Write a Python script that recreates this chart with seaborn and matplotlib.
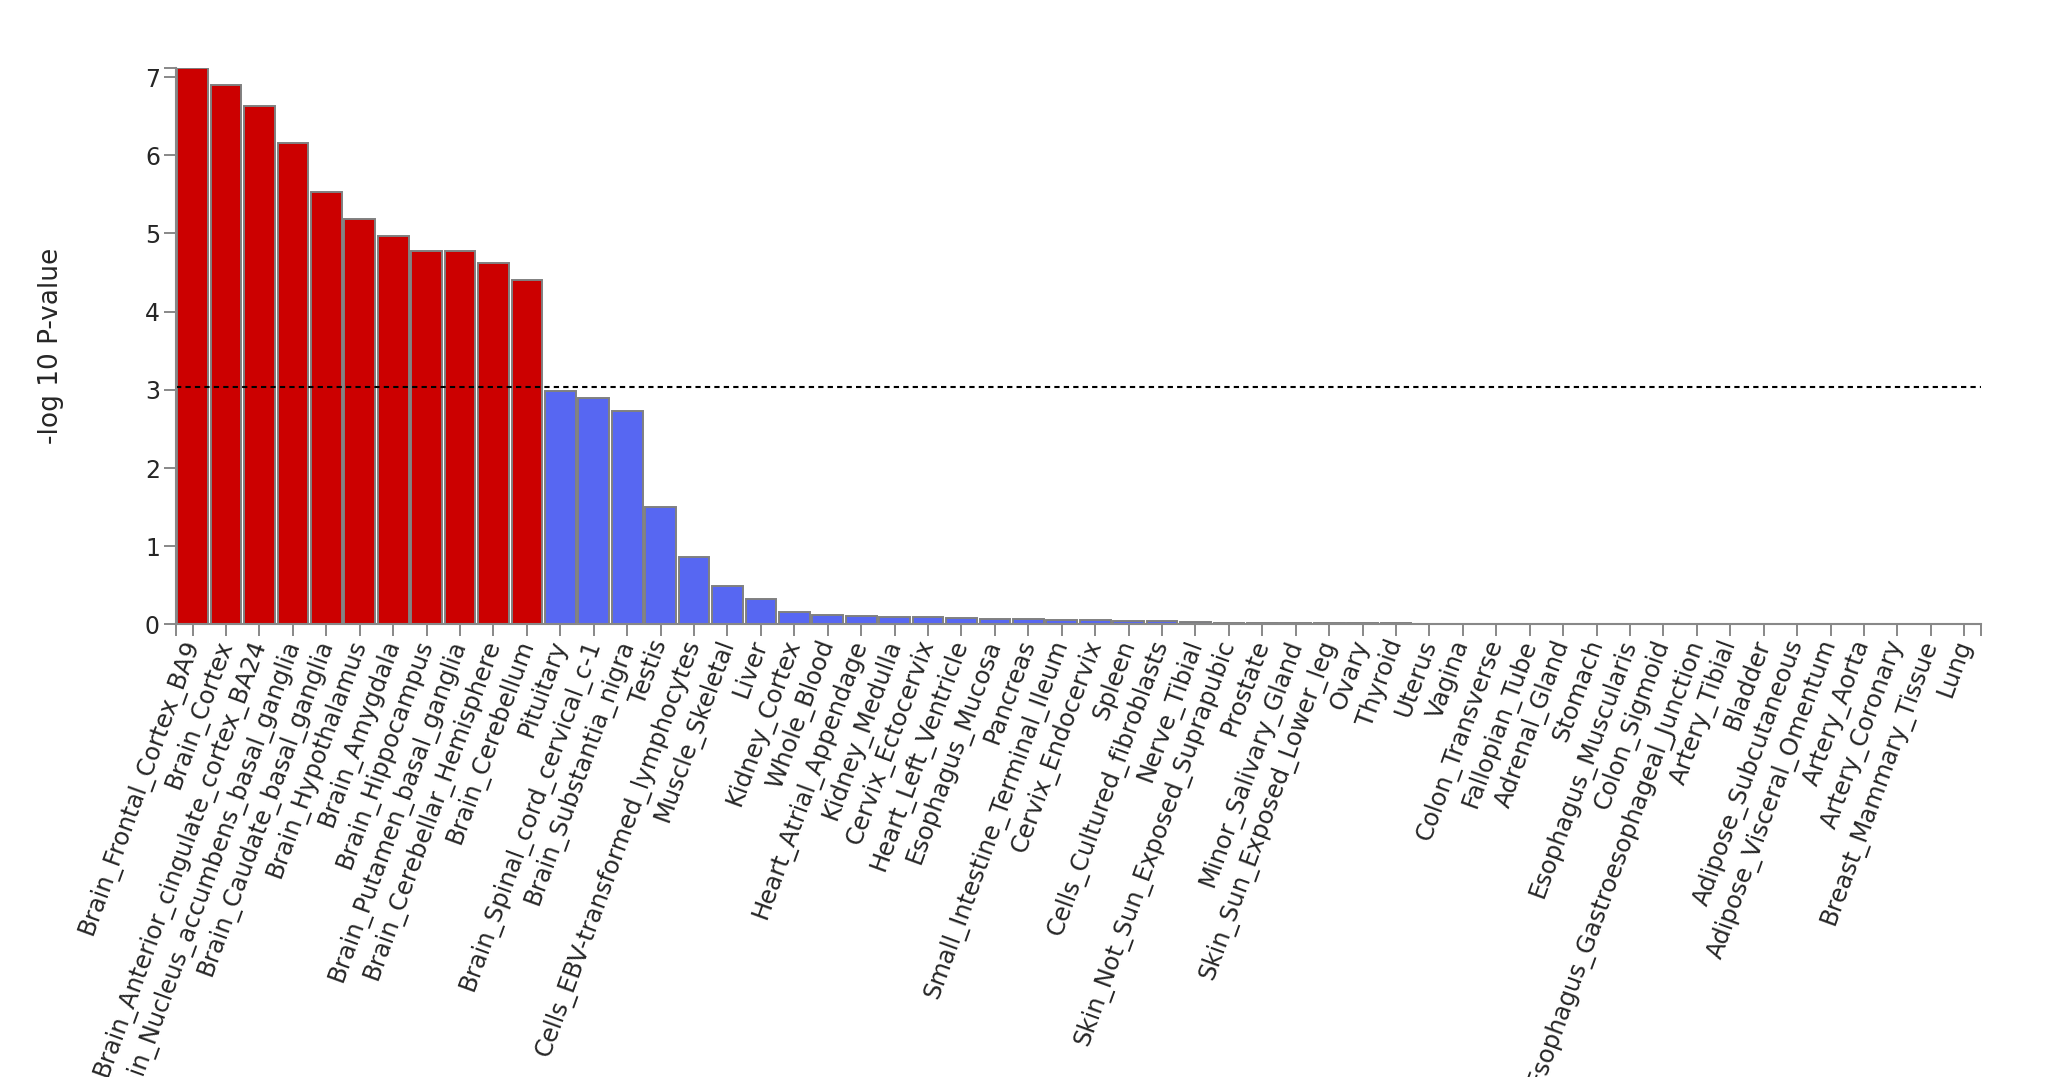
import pandas as pd
import seaborn as sns
import matplotlib.pyplot as plt

# tissue enrichment, GTEx 54 tissues, sorted by -log10 p
tissues = [
    "Brain_Frontal_Cortex_BA9", "Brain_Cortex", "Brain_Anterior_cingulate_cortex_BA24",
    "Brain_Nucleus_accumbens_basal_ganglia", "Brain_Caudate_basal_ganglia",
    "Brain_Hypothalamus", "Brain_Amygdala", "Brain_Hippocampus",
    "Brain_Putamen_basal_ganglia", "Brain_Cerebellar_Hemisphere", "Brain_Cerebellum",
    "Pituitary", "Brain_Spinal_cord_cervical_c-1", "Brain_Substantia_nigra", "Testis",
    "Cells_EBV-transformed_lymphocytes", "Muscle_Skeletal", "Liver", "Kidney_Cortex",
    "Whole_Blood", "Heart_Atrial_Appendage", "Kidney_Medulla", "Cervix_Ectocervix",
    "Heart_Left_Ventricle", "Esophagus_Mucosa", "Pancreas",
    "Small_Intestine_Terminal_Ileum", "Cervix_Endocervix", "Spleen",
    "Cells_Cultured_fibroblasts", "Nerve_Tibial", "Skin_Not_Sun_Exposed_Suprapubic",
    "Prostate", "Minor_Salivary_Gland", "Skin_Sun_Exposed_Lower_leg", "Ovary",
    "Thyroid", "Uterus", "Vagina", "Colon_Transverse", "Fallopian_Tube",
    "Adrenal_Gland", "Stomach", "Esophagus_Muscularis", "Colon_Sigmoid",
    "Esophagus_Gastroesophageal_Junction", "Artery_Tibial", "Bladder",
    "Adipose_Subcutaneous", "Adipose_Visceral_Omentum", "Artery_Aorta",
    "Artery_Coronary", "Breast_Mammary_Tissue", "Lung",
]
logp = [
    7.12, 6.90, 6.63, 6.15, 5.53, 5.19, 4.97, 4.78, 4.77, 4.62, 4.40,
    2.99, 2.90, 2.73, 1.50, 0.86, 0.49, 0.32, 0.16, 0.12, 0.11, 0.10, 0.094,
    0.085, 0.072, 0.072, 0.060, 0.060, 0.047, 0.047, 0.025, 0.020, 0.020,
    0.018, 0.016, 0.014, 0.013, 0.012, 0.011, 0.010, 0.010, 0.009, 0.009,
    0.008, 0.008, 0.007, 0.005, 0.004, 0.0, 0.0, 0.0, 0.0, 0.0, 0.0,
]
threshold = 3.04

df = pd.DataFrame({"tissue": tissues, "logp": logp})
df["sig"] = ["yes" if v > threshold else "no" for v in df["logp"]]

sns.set_style("white")
plt.rcParams["font.family"] = ["DejaVu Sans"]
plt.rcParams["lines.scale_dashes"] = False

fig, ax = plt.subplots(figsize=(20.48, 10.77), dpi=100)
fig.subplots_adjust(left=0.0859, right=0.9673, bottom=0.4202, top=0.9372)

sns.barplot(data=df, x="tissue", y="logp", hue="sig",
            palette={"yes": "#CC0000", "no": "#5767F2"}, saturation=1,
            dodge=False, width=0.92, edgecolor="#808080", linewidth=1.4,
            legend=False, ax=ax)

ax.axhline(threshold, color="black", linestyle=(0, (3.8, 3.0)), linewidth=1.5)

ax.set_xlim(-0.5, len(tissues) - 0.5)
ax.set_ylim(0, max(logp))
ax.set_xlabel("")
ax.set_ylabel("-log 10 P-value", fontsize=19)
ax.yaxis.set_label_coords(-0.062, 0.5)

# d3 style outer ticks at the ends of the axes
ax.set_xticks([-0.5, len(tissues) - 0.5], minor=True)
ax.set_yticks([max(logp)], minor=True)
ax.set_yticks(range(0, 8))

ax.tick_params(axis="x", labelsize=17.5, rotation=70, length=8.5, width=1.4,
               color="#888888", pad=3, which="both", bottom=True)
ax.tick_params(axis="y", labelsize=17, length=8.5, width=1.4,
               color="#888888", pad=3, which="both", left=True)
for lab in ax.get_xticklabels():
    lab.set_ha("right")
    lab.set_va("center")
    lab.set_rotation_mode("anchor")

sns.despine(ax=ax)
for side in ["left", "bottom"]:
    ax.spines[side].set_color("#888888")
    ax.spines[side].set_linewidth(1.5)

plt.savefig("out.png", dpi=100)
